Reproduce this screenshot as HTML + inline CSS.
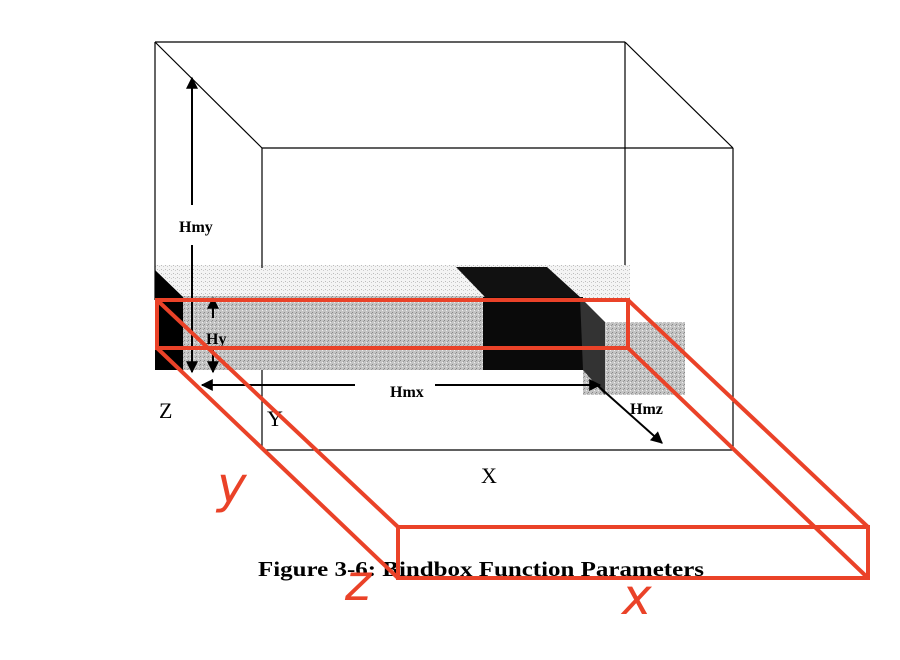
<!DOCTYPE html>
<html><head><meta charset="utf-8"><style>
html,body{margin:0;padding:0;background:#fff;}
svg{display:block;}
</style></head><body>
<svg width="900" height="660" viewBox="0 0 900 660" xmlns="http://www.w3.org/2000/svg">
<defs>
<pattern id="dots" width="4" height="4" patternUnits="userSpaceOnUse">
<rect width="4" height="4" fill="#f4f4f4"/><rect x="1" y="1" width="1" height="1" fill="#bbb"/><rect x="3" y="2" width="1" height="1" fill="#ccc"/>
</pattern>
<pattern id="gray" width="4" height="4" patternUnits="userSpaceOnUse">
<rect width="4" height="4" fill="#c4c4c4"/><rect x="0" y="0" width="1" height="1" fill="#888"/><rect x="2" y="2" width="1" height="1" fill="#eee"/><rect x="3" y="1" width="1" height="1" fill="#999"/>
</pattern>
<marker id="ah" viewBox="0 0 10 10" refX="9" refY="5" markerWidth="16" markerHeight="12" orient="auto-start-reverse" markerUnits="userSpaceOnUse"><path d="M0,0 L10,5 L0,10 z" fill="#000"/></marker>
</defs>
<rect x="155" y="265" width="475" height="33" fill="url(#dots)"/>
<rect x="160" y="296" width="325" height="74" fill="url(#gray)"/>
<rect x="583" y="322" width="102" height="73" fill="url(#gray)"/>
<polygon points="456,267 547,267 580,297 485,297" fill="#111"/>
<rect x="483" y="297" width="100" height="73" fill="#0a0a0a"/>
<polygon points="580,297 605,322 605,395 583,370" fill="#333"/>
<polygon points="155,270 183,297 183,370 155,370" fill="#000"/>
<g stroke="#000" stroke-width="1.2" fill="none">
<line x1="155" y1="42" x2="625" y2="42"/>
<line x1="155" y1="42" x2="155" y2="300"/>
<line x1="625" y1="42" x2="625" y2="265"/>
<line x1="155" y1="42" x2="262" y2="148"/>
<line x1="625" y1="42" x2="733" y2="148"/>
<line x1="262" y1="148" x2="733" y2="148"/>
<line x1="262" y1="148" x2="262" y2="268"/>
<line x1="262" y1="370" x2="262" y2="450"/>
<line x1="733" y1="148" x2="733" y2="450"/>
<line x1="262" y1="450" x2="733" y2="450"/>
</g>
<g stroke="#000" stroke-width="2" fill="none">
<line x1="192" y1="205" x2="192" y2="78" marker-end="url(#ah)"/>
<line x1="192" y1="245" x2="192" y2="372" marker-end="url(#ah)"/>
<line x1="213" y1="318" x2="213" y2="298" marker-end="url(#ah)"/>
<line x1="213" y1="350" x2="213" y2="372" marker-end="url(#ah)"/>
<line x1="355" y1="385" x2="202" y2="385" marker-end="url(#ah)"/>
<line x1="435" y1="385" x2="600" y2="385" marker-end="url(#ah)"/>
<line x1="597" y1="385" x2="662" y2="443" marker-end="url(#ah)"/>
</g>
<g font-family="Liberation Serif, serif" font-weight="bold" font-size="16" fill="#000">
<text x="179" y="232">Hmy</text>
<text x="206" y="344">Hy</text>
<text x="390" y="397">Hmx</text>
<text x="630" y="414">Hmz</text>
</g>
<g font-family="Liberation Serif, serif" font-size="22" fill="#000">
<text x="159" y="418">Z</text>
<text x="267" y="426">Y</text>
<text x="481" y="483">X</text>
</g>
<text x="258" y="576" font-family="Liberation Serif, serif" font-weight="bold" font-size="21" fill="#000" textLength="446" lengthAdjust="spacingAndGlyphs">Figure 3-6: Bindbox Function Parameters</text>
<g stroke="#ea4228" stroke-width="4" fill="none">
<rect x="157" y="300" width="471" height="48"/>
<line x1="157" y1="300" x2="398" y2="527"/>
<line x1="157" y1="348" x2="398" y2="578"/>
<line x1="628" y1="300" x2="868" y2="527"/>
<line x1="628" y1="348" x2="868" y2="578"/>
<rect x="398" y="527" width="470" height="51"/>
</g>
<g font-family="DejaVu Sans, sans-serif" font-style="italic" font-size="50" fill="#ea4228">
<text x="217" y="502">y</text>
<text x="345" y="600">z</text>
<text x="622" y="614">x</text>
</g>
</svg>
</body></html>
